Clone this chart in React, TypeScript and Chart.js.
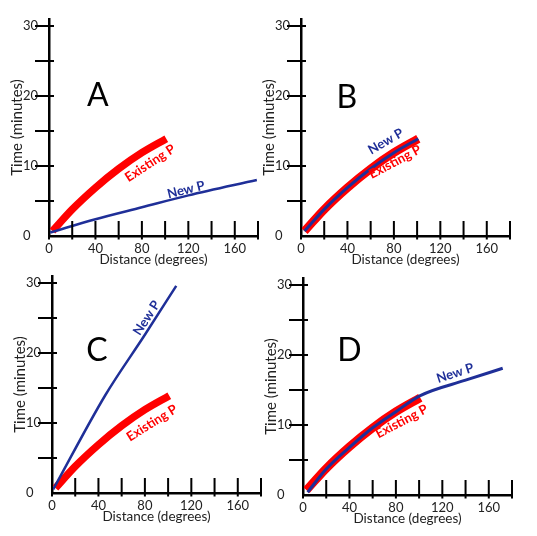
import React, { useEffect, useRef } from 'react';
import { Chart, registerables } from 'chart.js';

Chart.register(...registerables);

// values (distance in degrees, time in minutes)
const existingDist = [3, 20, 40, 60, 80, 101];
const existingTime = [0.7, 3.8, 6.9, 9.6, 11.9, 13.9];

const newDistA = [1, 40, 80, 120, 179];
const newTimeA = [0.5, 2.4, 4.1, 5.8, 8.0];

const newDistC = [1, 46, 80, 107];
const newTimeC = [0.5, 14.0, 22.6, 29.6];

const newDistD = [4, 20, 40, 60, 80, 101, 140, 172];
const newTimeD = [0.4, 3.7, 6.8, 9.6, 11.9, 14.2, 16.4, 18.1];

const distLabels = [0, 40, 80, 120, 160];
const timeLabels = [0, 10, 20, 30];

const RED = '#ff0000';
const BLUE = '#1f2f98';
const FONT = 'Lato';

const toPoints = (xs: number[], ys: number[]) => xs.map((x, i) => ({ x, y: ys[i] }));

// tick marks crossing the axes + panel letters and curve labels
const marksPlugin = {
  id: 'marks',
  afterDraw(chart: any, _args: any, opts: any) {
    const { ctx, chartArea } = chart;
    const xs = chart.scales.x;
    const ys = chart.scales.y;
    ctx.save();
    ctx.strokeStyle = '#000';
    ctx.lineWidth = 2;
    ctx.beginPath();
    xs.ticks.forEach((t: any) => {
      const px = xs.getPixelForValue(t.value);
      ctx.moveTo(px, chartArea.bottom - 15);
      ctx.lineTo(px, chartArea.bottom + 3.5);
    });
    ys.ticks.forEach((t: any) => {
      if (t.value === 0) return;
      const py = ys.getPixelForValue(t.value);
      ctx.moveTo(chartArea.left - 14, py);
      ctx.lineTo(chartArea.left + 5, py);
    });
    ctx.stroke();
    (opts.notes || []).forEach((n: any) => {
      ctx.save();
      ctx.translate(xs.getPixelForValue(n.x), ys.getPixelForValue(n.y));
      ctx.rotate((n.angle * Math.PI) / 180);
      ctx.font = n.font;
      ctx.fillStyle = n.color;
      ctx.textAlign = 'center';
      ctx.textBaseline = 'middle';
      ctx.fillText(n.text, 0, 0);
      ctx.restore();
    });
    ctx.restore();
  },
};

const letter = (text: string, x: number, y: number) => ({ text, x, y, angle: 0, font: `32px ${FONT}`, color: '#000' });
const note = (text: string, x: number, y: number, angle: number, color: string) => ({
  text, x, y, angle, font: `bold 13px ${FONT}`, color,
});

const panels = [
  {
    key: 'A', left: 0, top: 0, newDist: newDistA, newTime: newTimeA, overlay: false,
    notes: [letter('A', 42, 20.1), note('Existing P', 87, 10.4, -33, RED), note('New P', 118, 6.6, -14, BLUE)],
  },
  {
    key: 'B', left: 252, top: 0, newDist: existingDist, newTime: existingTime, overlay: true,
    notes: [letter('B', 39.4, 19.7), note('New P', 73, 13.5, -30, BLUE), note('Existing P', 81, 10.6, -28, RED)],
  },
  {
    key: 'C', left: 3, top: 257, newDist: newDistC, newTime: newTimeC, overlay: false,
    notes: [letter('C', 38.8, 20.4), note('New P', 81.6, 25.0, -57, BLUE), note('Existing P', 86, 10.0, -32, RED)],
  },
  {
    key: 'D', left: 254, top: 259, newDist: newDistD, newTime: newTimeD, overlay: true,
    notes: [letter('D', 40, 20.6), note('New P', 131, 17.4, -18, BLUE), note('Existing P', 85, 10.5, -28, RED)],
  },
];

const Panel = ({ panel }: { panel: any }) => {
  const canvasRef = useRef<HTMLCanvasElement>(null);

  useEffect(() => {
    const chart = new Chart(canvasRef.current as HTMLCanvasElement, {
      type: 'line',
      data: {
        datasets: [
          {
            label: 'New P',
            data: toPoints(panel.newDist, panel.newTime),
            borderColor: BLUE,
            borderWidth: panel.overlay ? 3 : 2.5,
            pointRadius: 0,
            cubicInterpolationMode: 'monotone',
            clip: false,
          },
          {
            label: 'Existing P',
            data: toPoints(existingDist, existingTime),
            borderColor: RED,
            borderWidth: panel.overlay ? 8.5 : 7.5,
            pointRadius: 0,
            cubicInterpolationMode: 'monotone',
            clip: false,
          },
        ],
      },
      options: {
        animation: false,
        responsive: false,
        layout: { padding: { left: 23, right: 10, top: 19, bottom: 0 } },
        scales: {
          x: {
            type: 'linear',
            min: 0,
            max: 180,
            grid: { display: false, drawTicks: false },
            border: { display: true, color: '#000', width: 2.5 },
            ticks: {
              stepSize: 20,
              autoSkip: false,
              maxRotation: 0,
              padding: 5,
              color: '#222',
              font: { family: FONT, size: 13 },
              callback: (v: any) => (distLabels.includes(v) ? String(v) : ''),
            },
            title: {
              display: true,
              text: 'Distance (degrees)',
              color: '#222',
              font: { family: FONT, size: 13.5 },
              padding: { top: 0, bottom: 0 },
            },
            afterFit: (s: any) => { s.height = 32; },
          },
          y: {
            type: 'linear',
            min: 0,
            max: 31,
            grid: { display: false, drawTicks: false },
            border: { display: true, color: '#000', width: 2.5 },
            ticks: {
              stepSize: 5,
              includeBounds: false,
              autoSkip: false,
              crossAlign: 'far',
              color: '#222',
              font: { family: FONT, size: 13 },
              callback: (v: any) => (timeLabels.includes(v) ? String(v) : ''),
            },
            title: {
              display: true,
              text: 'Time (minutes)',
              color: '#222',
              font: { family: FONT, size: 15 },
              padding: { top: -15, bottom: 0 },
            },
            afterFit: (s: any) => { s.width = 26; },
          },
        },
        plugins: {
          legend: { display: false },
          tooltip: { enabled: false },
          marks: { notes: panel.notes },
        } as any,
      },
      plugins: [marksPlugin],
    } as any);

    return () => chart.destroy();
  }, [panel]);

  return (
    <div style={{ position: 'absolute', left: panel.left, top: panel.top, width: 268, height: 268 }}>
      <canvas ref={canvasRef} width={268} height={268} style={{ width: 268, height: 268 }} />
    </div>
  );
};

const App = () => (
  <div style={{ position: 'absolute', left: 0, top: 0, width: 537, height: 536, background: '#fff', overflow: 'hidden' }}>
    {panels.map((p) => (
      <Panel key={p.key} panel={p} />
    ))}
  </div>
);

export default App;
